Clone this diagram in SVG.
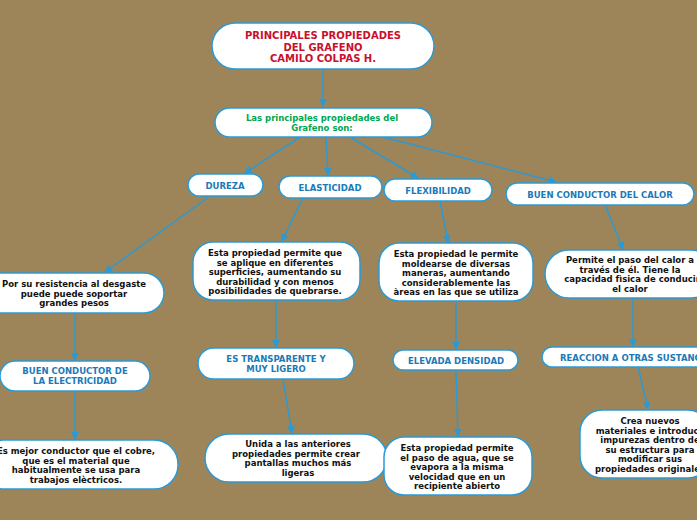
<svg xmlns="http://www.w3.org/2000/svg" width="697" height="520" viewBox="0 0 697 520">
<defs>
<marker id="a" markerWidth="8" markerHeight="8" refX="7" refY="4" orient="auto" markerUnits="userSpaceOnUse"><path d="M0,0 L8,4 L0,8 z" fill="#2b9ad4"/></marker>
<style>
.n{fill:#fff;stroke:#2b9ad4;stroke-width:1.5}
text{font-family:"DejaVu Sans",Verdana,sans-serif;font-weight:bold;text-anchor:middle}
.t{fill:#c8102e;font-size:10px}
.g{fill:#00a651;font-size:8.5px}
.b{fill:#1a7ab8;font-size:8.5px}
.k{fill:#111;font-size:8.5px}
#c line{stroke:#2b9ad4;stroke-width:1.5;marker-end:url(#a)}
</style>
</defs>
<rect width="697" height="520" fill="#9d8559"/>
<g id="c">
<line x1="323" y1="69" x2="323" y2="106"/>
<line x1="300" y1="137" x2="245" y2="173"/>
<line x1="326" y1="137" x2="328" y2="175"/>
<line x1="350" y1="137" x2="418" y2="178"/>
<line x1="383" y1="137" x2="556" y2="182"/>
<line x1="210" y1="196" x2="105" y2="272"/>
<line x1="303" y1="198" x2="282" y2="241"/>
<line x1="440" y1="201" x2="448" y2="242"/>
<line x1="605" y1="205" x2="623" y2="249"/>
<line x1="75" y1="313" x2="75" y2="360"/>
<line x1="75" y1="391" x2="75" y2="439"/>
<line x1="276" y1="300" x2="276" y2="347"/>
<line x1="283" y1="379" x2="292" y2="433"/>
<line x1="456" y1="301" x2="456" y2="349"/>
<line x1="456" y1="370" x2="458" y2="436"/>
<line x1="633" y1="298" x2="633" y2="346"/>
<line x1="638" y1="367" x2="648" y2="409"/>
</g>
<g id="title"><rect class="n" x="212" y="23" width="222" height="46" rx="23"/><text class="t" x="323" y="39">PRINCIPALES PROPIEDADES<tspan x="323" dy="11.5">DEL GRAFENO</tspan><tspan x="323" dy="11.5">CAMILO COLPAS H.</tspan></text></g>
<g id="sub"><rect class="n" x="215" y="108" width="217" height="29" rx="14.5"/><text class="g" x="322" y="121">Las principales propiedades del<tspan x="322" dy="10">Grafeno son:</tspan></text></g>
<g id="dureza"><rect class="n" x="188" y="174" width="75" height="22" rx="11"/><text class="b" x="225" y="189">DUREZA</text></g>
<g id="elast"><rect class="n" x="279" y="176" width="103" height="22" rx="11"/><text class="b" x="330" y="191">ELASTICIDAD</text></g>
<g id="flex"><rect class="n" x="384" y="179" width="108" height="22" rx="11"/><text class="b" x="438" y="194">FLEXIBILIDAD</text></g>
<g id="calor"><rect class="n" x="506" y="183" width="188" height="22" rx="11"/><text class="b" x="600" y="198">BUEN CONDUCTOR DEL CALOR</text></g>
<g id="resist"><rect class="n" x="-20" y="273" width="184" height="40" rx="20"/><text class="k" x="74" y="287">Por su resistencia al desgaste<tspan x="74" dy="9.5">puede puede soportar</tspan><tspan x="74" dy="9.5">grandes pesos</tspan></text></g>
<g id="elec"><rect class="n" x="0" y="361" width="150" height="30" rx="15"/><text class="b" x="75" y="374">BUEN CONDUCTOR DE<tspan x="75" dy="10">LA ELECTRICIDAD</tspan></text></g>
<g id="mejor"><rect class="n" x="-20" y="440" width="198" height="49" rx="24"/><text class="k" x="76" y="454">Es mejor conductor que el cobre,<tspan x="76" dy="9.5">que es el material que</tspan><tspan x="76" dy="9.5">habitualmente se usa para</tspan><tspan x="76" dy="9.5">trabajos elèctricos.</tspan></text></g>
<g id="aplique"><rect class="n" x="193" y="242" width="167" height="58" rx="20"/><text class="k" x="275" y="256">Esta propiedad permite que<tspan x="275" dy="9.5">se aplique en diferentes</tspan><tspan x="275" dy="9.5">superficies, aumentando su</tspan><tspan x="275" dy="9.5">durabilidad y con menos</tspan><tspan x="275" dy="9.5">posibilidades de quebrarse.</tspan></text></g>
<g id="transp"><rect class="n" x="198" y="348" width="156" height="31" rx="15.5"/><text class="b" x="276" y="362">ES TRANSPARENTE Y<tspan x="276" dy="9.5">MUY LIGERO</tspan></text></g>
<g id="unida"><rect class="n" x="205" y="434" width="182" height="48" rx="24"/><text class="k" x="298" y="447">Unida a las anteriores<tspan x="296" dy="9.5">propiedades permite crear</tspan><tspan x="298" dy="9.5">pantallas muchos más</tspan><tspan x="298" dy="9.5">ligeras</tspan></text></g>
<g id="moldear"><rect class="n" x="379" y="243" width="154" height="58" rx="20"/><text class="k" x="456" y="257">Esta propiedad le permite<tspan x="456" dy="9.5">moldearse de diversas</tspan><tspan x="456" dy="9.5">maneras, aumentando</tspan><tspan x="456" dy="9.5">considerablemente las</tspan><tspan x="456" dy="9.5">àreas en las que se utiliza</tspan></text></g>
<g id="densidad"><rect class="n" x="393" y="350" width="125" height="20" rx="10"/><text class="b" x="456" y="364">ELEVADA DENSIDAD</text></g>
<g id="agua"><rect class="n" x="384" y="437" width="148" height="58" rx="20"/><text class="k" x="457" y="451">Esta propiedad permite<tspan x="457" dy="9.5">el paso de agua, que se</tspan><tspan x="457" dy="9.5">evapora a la misma</tspan><tspan x="457" dy="9.5">velocidad que en un</tspan><tspan x="457" dy="9.5">recipiente abierto</tspan></text></g>
<g id="pasocalor"><rect class="n" x="545" y="250" width="170" height="48" rx="24"/><text class="k" x="630" y="263">Permite el paso del calor a<tspan x="630" dy="9.5">través de él. Tiene la</tspan><tspan x="632" dy="9.5">capacidad fìsica de conducir</tspan><tspan x="630" dy="9.5">el calor</tspan></text></g>
<g id="reaccion"><rect class="n" x="542" y="347" width="170" height="20" rx="10"/><text class="b" x="560" y="361" style="text-anchor:start">REACCION A OTRAS SUSTANCIAS</text></g>
<g id="crea"><rect class="n" x="580" y="410" width="130" height="68" rx="22"/><text class="k" x="650" y="424">Crea nuevos<tspan x="650" dy="9.5">materiales e introduce</tspan><tspan x="650" dy="9.5">impurezas dentro de</tspan><tspan x="650" dy="9.5">su estructura para</tspan><tspan x="650" dy="9.5">modificar sus</tspan><tspan x="650" dy="9.5">propiedades originales</tspan></text></g>
</svg>
